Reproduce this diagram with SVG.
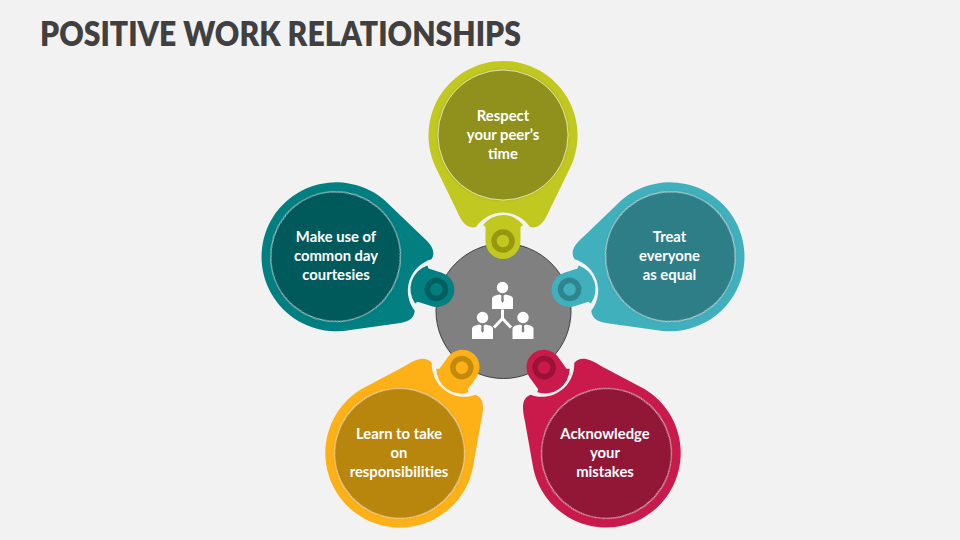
<svg xmlns="http://www.w3.org/2000/svg" width="960" height="540" viewBox="0 0 960 540">
<style>
.title{font:800 34px Lato,"Liberation Sans",sans-serif;fill:#404040}
.lbl{font:700 14.8px Lato,"Liberation Sans",sans-serif;fill:#fff;text-anchor:middle}
.inner{stroke:#fff;stroke-opacity:.65;stroke-width:1;filter:url(#sh)}
.ringm{fill:none;stroke-width:5.5}
</style>
<defs>
<filter id="sh" x="-10%" y="-10%" width="120%" height="120%"><feDropShadow dx="0" dy="0" stdDeviation="1.500" flood-color="#000" flood-opacity=".14"/></filter>
<path id="petal" d="M-27,-84 A32.500,32.500 0 0 1 27,-84 C36,-82 41,-88 47,-102 L66,-141 A74.500,74.500 0 1 0 -66,-141 L-47,-102 C-41,-88 -36,-82 -27,-84 Z"/>
<path id="tab" d="M-20,-86 A25,25 0 0 1 20,-86 L17.500,-84 L17.500,-70 A17.500,18 0 0 1 -17.500,-70 L-17.500,-84 Z"/>
<g id="person">
<circle cx="0" cy="-7.500" r="5.700" fill="#fff"/>
<path d="M-10.500,14 V4 Q-10.500,1.500 -7,0.500 L-3,-0.500 L0,1 L3,-0.500 L7,0.500 Q10.500,1.500 10.500,4 V14 Z" fill="#fff"/>
<path d="M-1,0 H1 L1.300,6 L0,8 L-1.300,6 Z" fill="#808080"/>
</g>
</defs>
<rect width="960" height="540" fill="#f2f2f2"/>
<text class="title" x="40" y="46" textLength="481" lengthAdjust="spacingAndGlyphs">POSITIVE WORK RELATIONSHIPS</text>
<g id="hub">
<circle cx="503.500" cy="311" r="67.500" fill="#808080" stroke="#404040" stroke-width="1"/>
<g id="hub-icon">
<use href="#person" x="502.500" y="295"/>
<use href="#person" x="482.500" y="325"/>
<use href="#person" x="523" y="325"/>
<path d="M502.500,309.500 V318.500 L494,327.500 M502.500,318.500 L511,327.500" fill="none" stroke="#fff" stroke-width="3"/>
</g>
</g>
<g id="connectors"></g>
<g id="node-top" transform="translate(503,311)">
<use href="#petal" fill="#c1c81f"/>
<use href="#tab" fill="#c1c81f"/>
<circle cy="-70" r="9" class="ringm" stroke="#97980f" fill="none"/>
<circle cy="-176" r="65" fill="#8f911a" class="inner"/>
<text class="lbl" y="-190">Respect</text>
<text class="lbl" y="-171">your peer’s</text>
<text class="lbl" y="-152">time</text>
</g>
<g id="node-right" transform="translate(503,311)">
<g transform="rotate(72)">
<use href="#petal" fill="#40b0bc"/>
<use href="#tab" fill="#40b0bc"/>
<circle cy="-70" r="9" class="ringm" stroke="#2f848e" fill="none"/>
<circle cy="-176" r="65" fill="#2f7e87" class="inner"/>
</g>
<text class="lbl" x="166.500" y="-69">Treat</text>
<text class="lbl" x="166.500" y="-50">everyone</text>
<text class="lbl" x="166.500" y="-31">as equal</text>
</g>
<g id="node-bottom-right" transform="translate(503,311)">
<g transform="rotate(144)">
<use href="#petal" fill="#c91a4b"/>
<use href="#tab" fill="#c91a4b"/>
<circle cy="-70" r="9" class="ringm" stroke="#9a1238" fill="none"/>
<circle cy="-176" r="65" fill="#921335" class="inner"/>
</g>
<text class="lbl" x="102" y="128">Acknowledge</text>
<text class="lbl" x="102" y="147">your</text>
<text class="lbl" x="102" y="166">mistakes</text>
</g>
<g id="node-bottom-left" transform="translate(503,311)">
<g transform="rotate(216)">
<use href="#petal" fill="#fdb117"/>
<use href="#tab" fill="#fdb117"/>
<circle cy="-70" r="9" class="ringm" stroke="#c48a0c" fill="none"/>
<circle cy="-176" r="65" fill="#b8850f" class="inner"/>
</g>
<text class="lbl" x="-104" y="128">Learn to take</text>
<text class="lbl" x="-104" y="147">on</text>
<text class="lbl" x="-104" y="166">responsibilities</text>
</g>
<g id="node-left" transform="translate(503,311)">
<g transform="rotate(288)">
<use href="#petal" fill="#017f81"/>
<use href="#tab" fill="#017f81"/>
<circle cy="-70" r="9" class="ringm" stroke="#025f61" fill="none"/>
<circle cy="-176" r="65" fill="#025a5c" class="inner"/>
</g>
<text class="lbl" x="-167" y="-69">Make use of</text>
<text class="lbl" x="-167" y="-50">common day</text>
<text class="lbl" x="-167" y="-31">courtesies</text>
</g>
</svg>
